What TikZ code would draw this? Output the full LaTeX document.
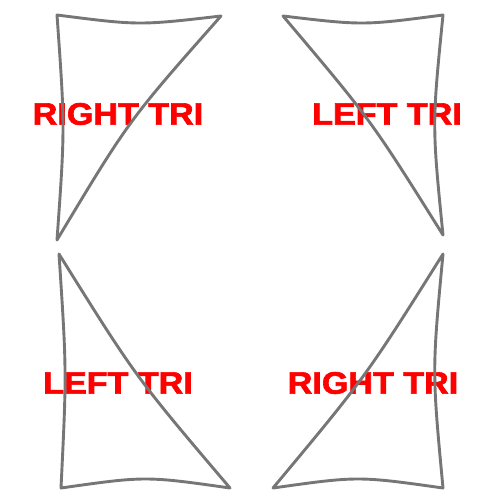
\documentclass[tikz,border=0pt]{standalone}
\usepackage{fontspec}
\setmainfont{Liberation Sans}
\newfontfamily\lblfont[FakeBold=2.0]{Liberation Sans Bold}
\tikzset{
  sail/.style={draw={rgb,255:red,118;green,118;blue,118}, line width=2.9pt, line join=round, line cap=round},
  lbl/.style={text=red, font=\fontsize{31}{33}\lblfont, xscale=1.1, inner sep=0pt}
}
\begin{document}
\begin{tikzpicture}[x=1pt,y=-1pt]
\useasboundingbox (0,0) rectangle (500,500);
\node[lbl] (t1) at (118,114) {RIGHT TRI};
\node[lbl] (t2) at (387,114) {LEFT TRI};
\node[lbl] (t3) at (118,383) {LEFT TRI};
\node[lbl] (t4) at (373,383) {RIGHT TRI};
% top-left
\draw[sail] (57,15) .. controls (139,25.5) .. (221,16) .. controls (129,120) .. (57,240) .. controls (65,127.5) .. cycle;
% top-right
\draw[sail] (283,16) .. controls (363,25.5) .. (443,15) .. controls (432,125) .. (443,235) .. controls (370.8,119.8) .. cycle;
% bottom-left
\draw[sail] (59,254) .. controls (135.9,377.3) .. (230,488) .. controls (145.5,476) .. (61,488) .. controls (66.7,371) .. cycle;
% bottom-right
\draw[sail] (443,254) .. controls (432,371) .. (443,488) .. controls (358,476) .. (273,488) .. controls (365.8,376.7) .. cycle;
\end{tikzpicture}
\end{document}
